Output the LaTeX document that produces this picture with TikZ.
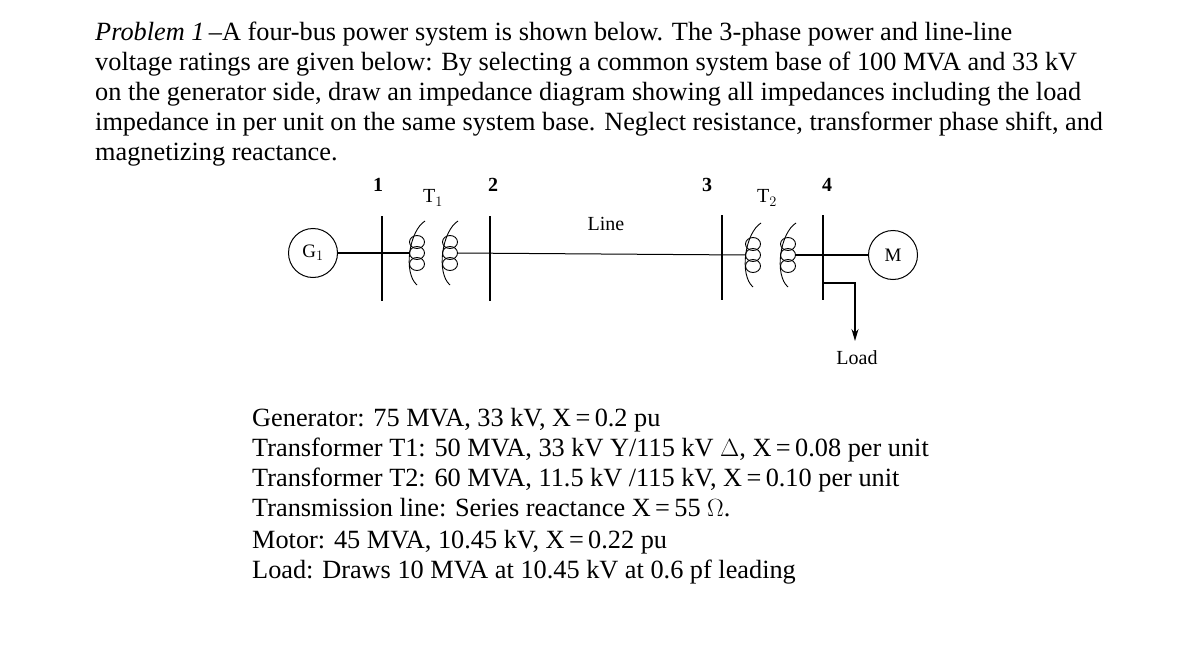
\documentclass[tikz,border=0pt]{standalone}
\usepackage{fontspec}
\setmainfont{Liberation Serif}
\usetikzlibrary{arrows.meta}
\begin{document}
\begin{tikzpicture}[x=1pt,y=-1pt,
  txt/.style={anchor=base west,inner sep=0pt,font=\fontsize{26.3}{30}\selectfont},
  lbl/.style={inner sep=0pt,font=\fontsize{20}{22}\selectfont},
  bus/.style={line width=2.8pt},
  wire/.style={line width=1pt},
  coil/.style={line width=0.9pt},
  mach/.style={circle,draw,line width=1pt,minimum size=49pt,inner sep=0pt,font=\fontsize{19}{20}\selectfont}]
\useasboundingbox (0,0) rectangle (1179,653);
% problem text
\node[txt] (p1) at (95,40) {\textit{Problem 1}\,--A four-bus power system is shown below. The 3-phase power and line-line};
\node[txt] (p2) at (95,70) {voltage ratings are given below: By selecting a common system base of 100 MVA and 33 kV};
\node[txt] (p3) at (95,100) {on the generator side, draw an impedance diagram showing all impedances including the load};
\node[txt] (p4) at (95,130) {impedance in per unit on the same system base. Neglect resistance, transformer phase shift, and};
\node[txt] (p5) at (95,160) {magnetizing reactance.};
% data text
\node[txt] (d1) at (252,426) {Generator: 75 MVA, 33 kV, X\,=\,0.2 pu};
\node[txt] (d2) at (252,456) {Transformer T1: 50 MVA, 33 kV Y/115 kV $\Delta$, X\,=\,0.08 per unit};
\node[txt] (d3) at (252,486) {Transformer T2: 60 MVA, 11.5 kV /115 kV, X\,=\,0.10 per unit};
\node[txt] (d4) at (252,516) {Transmission line: Series reactance X\,=\,55 $\Omega$.};
\node[txt] (d5) at (252,548) {Motor: 45 MVA, 10.45 kV, X\,=\,0.22 pu};
\node[txt] (d6) at (252,578) {Load: Draws 10 MVA at 10.45 kV at 0.6 pf leading};
% machines
\node[mach] (G) at (313,253) {G$_1$};
\node[mach] (M) at (893,255) {M};
% buses
\coordinate (b1t) at (382,216); \coordinate (b1b) at (382,301);
\coordinate (b2t) at (490,216); \coordinate (b2b) at (490,301);
\coordinate (b3t) at (722,215); \coordinate (b3b) at (722,300);
\coordinate (b4t) at (823,215); \coordinate (b4b) at (823,300);
\draw[bus] (b1t) -- (b1b);
\draw[bus] (b2t) -- (b2b);
\draw[bus] (b3t) -- (b3b);
\draw[bus] (b4t) -- (b4b);
% transformer coils
\coordinate (t1a) at (417,253); \coordinate (t1b) at (450,253);
\coordinate (t2a) at (753,255); \coordinate (t2b) at (788,255);
\foreach \c in {t1a,t1b,t2a,t2b}{
  \foreach \dy in {-11,0,11}
    \draw[coil] ([yshift=\dy*-1pt]\c) ellipse (7.5 and 6.5);
  \draw[coil] ([shift={(8,-32)}]\c) .. controls +(-16,10) and +(-14,-12) .. ([shift={(0,32)}]\c);
}
% wiring
\draw[wire,line width=2pt] (G) -- ([xshift=-7.5pt]t1a);
\draw[wire] ([xshift=7.5pt]t1b) -- ([xshift=-7.5pt]t2a);
\draw[wire,line width=1.5pt] ([xshift=7.5pt]t2b) -- (M);
\coordinate (lj) at (823,283);
\coordinate (lc) at (855,283);
\coordinate (le) at (855,341);
\draw[wire,line width=1.5pt,-{Stealth[length=12pt,width=7pt]}] (lj) -- (lc) -- (le);
% labels
\node[lbl] (n1) at (378,185) {\textbf{1}};
\node[lbl] (n2) at (493,185) {\textbf{2}};
\node[lbl] (n3) at (707,185) {\textbf{3}};
\node[lbl] (n4) at (827,185) {\textbf{4}};
\node[lbl] (T1) at (433,198) {T$_1$};
\node[lbl] (T2) at (767,198) {T$_2$};
\node[lbl] (ln) at (606,224) {Line};
\node[lbl] (ld) at (857,358) {Load};
\end{tikzpicture}
\end{document}
